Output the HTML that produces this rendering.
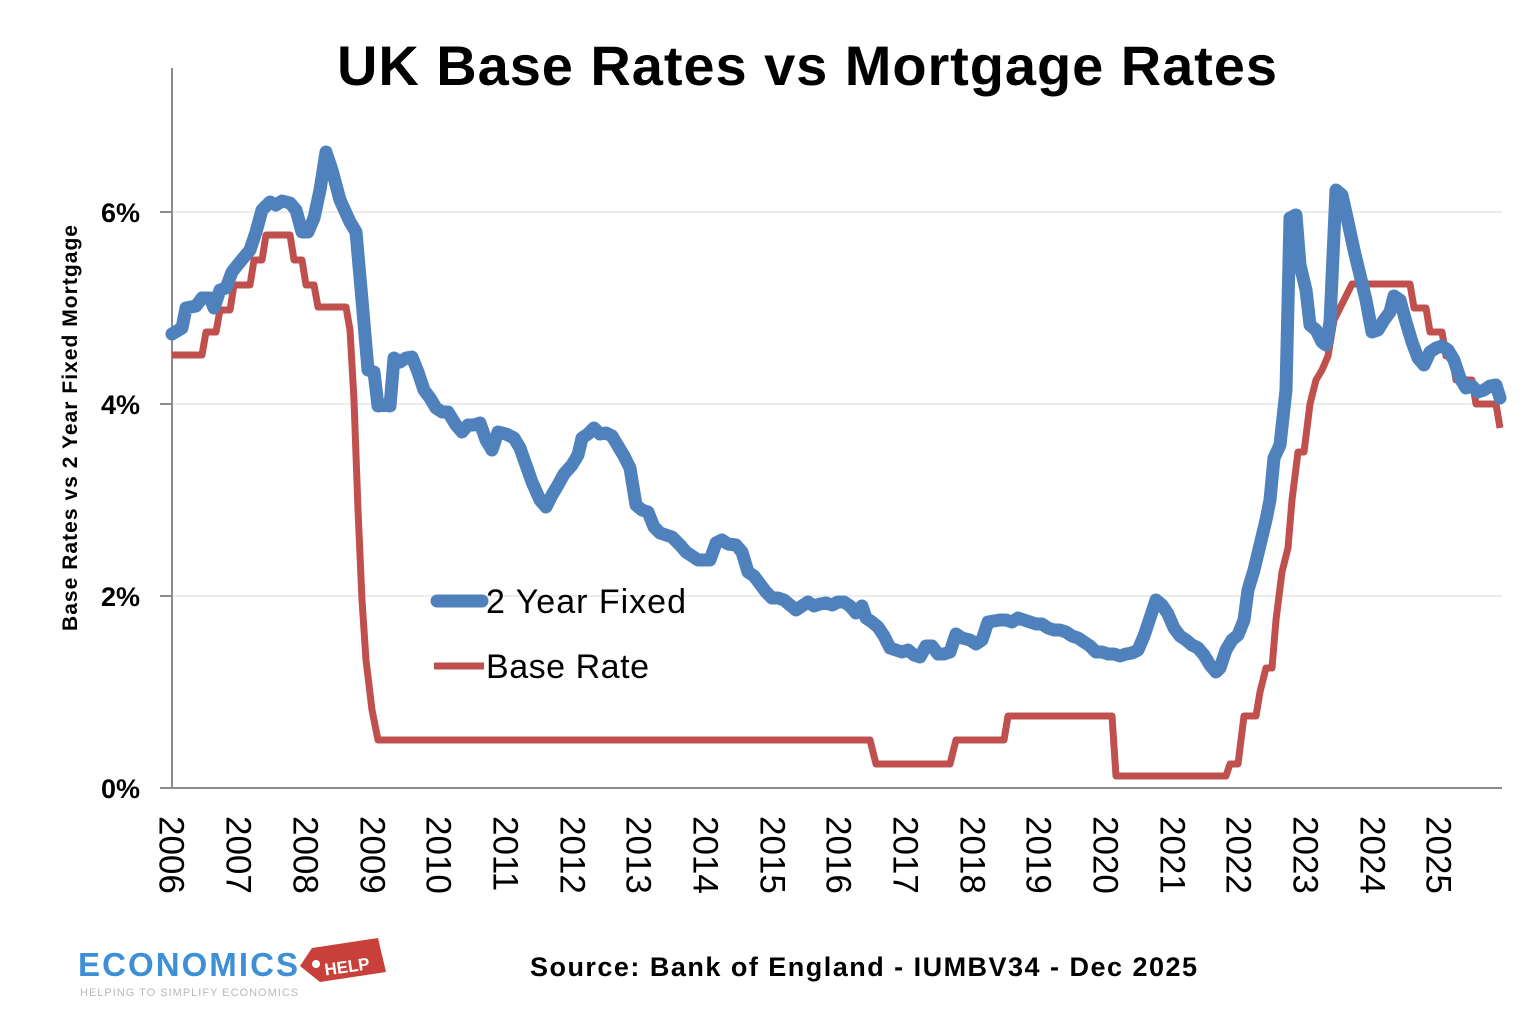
<!DOCTYPE html>
<html><head><meta charset="utf-8"><style>
body{margin:0;background:#fff;}
svg{display:block;font-family:"Liberation Sans",sans-serif;}
</style></head><body>
<svg width="1536" height="1010" viewBox="0 0 1536 1010">
<rect width="1536" height="1010" fill="#fff"/>
<text x="807" y="85" text-anchor="middle" font-size="56" font-weight="bold" fill="#000" textLength="940" lengthAdjust="spacing">UK Base Rates vs Mortgage Rates</text>
<g stroke="#d9d9d9" stroke-width="1">
<line x1="172" y1="212" x2="1502" y2="212"/>
<line x1="172" y1="404" x2="1502" y2="404"/>
<line x1="172" y1="596" x2="1502" y2="596"/>
</g>
<g stroke="#8c8c8c" stroke-width="2">
<line x1="172" y1="68" x2="172" y2="789"/>
<line x1="160" y1="788" x2="1502" y2="788"/>
<line x1="160" y1="212" x2="172" y2="212"/>
<line x1="160" y1="404" x2="172" y2="404"/>
<line x1="160" y1="596" x2="172" y2="596"/>
</g>
<g font-size="27" font-weight="bold" text-anchor="end" fill="#000">
<text x="140" y="222">6%</text>
<text x="140" y="414">4%</text>
<text x="140" y="606">2%</text>
<text x="140" y="798">0%</text>
</g>
<text transform="translate(77,428) rotate(-90)" text-anchor="middle" font-size="21" font-weight="bold" textLength="406" lengthAdjust="spacing">Base Rates vs 2 Year Fixed Mortgage</text>
<g font-size="35" fill="#000" dominant-baseline="central">
<text transform="translate(171,816) rotate(90)">2006</text>
<text transform="translate(238,816) rotate(90)">2007</text>
<text transform="translate(305,816) rotate(90)">2008</text>
<text transform="translate(372,816) rotate(90)">2009</text>
<text transform="translate(438,816) rotate(90)">2010</text>
<text transform="translate(505,816) rotate(90)">2011</text>
<text transform="translate(572,816) rotate(90)">2012</text>
<text transform="translate(638,816) rotate(90)">2013</text>
<text transform="translate(705,816) rotate(90)">2014</text>
<text transform="translate(772,816) rotate(90)">2015</text>
<text transform="translate(838,816) rotate(90)">2016</text>
<text transform="translate(905,816) rotate(90)">2017</text>
<text transform="translate(972,816) rotate(90)">2018</text>
<text transform="translate(1038,816) rotate(90)">2019</text>
<text transform="translate(1105,816) rotate(90)">2020</text>
<text transform="translate(1172,816) rotate(90)">2021</text>
<text transform="translate(1238,816) rotate(90)">2022</text>
<text transform="translate(1305,816) rotate(90)">2023</text>
<text transform="translate(1372,816) rotate(90)">2024</text>
<text transform="translate(1438,816) rotate(90)">2025</text>
</g>
<polyline fill="none" stroke="#c0504d" stroke-width="7" stroke-linejoin="round" points="172,355 202,355 206,332 216,332 220,310 230,310 234,285 250,285 254,260 262,260 266,235 290,235 294,260 302,260 306,285 314,285 318,307 346,307 350,330 354,400 358,510 362,600 366,660 372,710 378,740 870,740 876,764 950,764 956,740 1004,740 1008,716 1112,716 1116,776 1226,776 1230,764 1238,764 1244,716 1256,716 1260,692 1266,668 1272,668 1276,620 1282,572 1288,548 1292,500 1298,452 1304,452 1310,404 1316,380 1322,370 1328,356 1334,320 1340,308 1346,296 1352,284 1410,284 1414,308 1426,308 1430,332 1442,332 1446,356 1452,356 1456,380 1472,380 1476,404 1496,404 1500,428"/>
<polyline fill="none" stroke="#4f81bd" stroke-width="13" stroke-linejoin="round" stroke-linecap="round" points="172,334 182,328 186,308 196,306 202,298 210,298 214,308 220,290 226,288 232,272 240,262 250,250 256,232 262,210 270,202 276,205 282,201 290,203 296,210 302,232 308,232 314,218 320,190 326,152 332,170 340,200 350,222 356,232 362,300 368,370 374,372 378,406 384,405 390,406 394,358 400,362 406,358 412,357 418,372 424,390 430,398 436,408 442,412 448,412 456,425 462,432 468,425 474,425 480,423 486,440 492,450 498,432 506,434 514,438 520,448 526,465 532,482 540,500 546,507 552,495 558,485 564,474 572,465 578,455 582,438 588,434 594,428 600,434 606,433 612,436 618,446 624,456 630,468 636,505 642,510 648,512 654,527 660,533 666,535 672,537 680,545 686,552 692,556 698,560 704,560 710,560 716,543 722,540 728,544 736,545 742,552 748,572 754,576 760,584 766,592 772,598 778,598 784,600 790,605 796,610 802,606 808,602 814,606 820,604 826,603 832,605 838,602 844,602 850,606 856,613 862,606 866,618 872,622 878,627 884,636 890,648 896,650 902,652 908,650 914,655 920,657 926,646 932,646 938,654 944,654 950,652 956,634 962,638 970,640 976,644 982,640 988,622 994,621 1000,620 1006,620 1012,622 1018,618 1024,620 1030,622 1036,624 1042,624 1048,628 1054,630 1060,630 1066,632 1072,636 1078,638 1084,642 1090,646 1096,652 1102,652 1108,654 1114,654 1120,656 1126,654 1132,653 1138,650 1144,636 1150,618 1156,600 1162,605 1168,614 1174,628 1180,636 1186,640 1192,645 1198,648 1204,655 1210,665 1216,672 1220,668 1226,650 1232,640 1238,635 1244,620 1248,590 1254,570 1260,545 1266,520 1270,500 1274,458 1280,445 1286,390 1290,218 1296,215 1300,265 1306,290 1310,325 1316,330 1322,342 1326,345 1330,322 1336,190 1342,195 1348,222 1354,250 1360,275 1366,300 1372,332 1378,330 1384,320 1390,312 1394,296 1400,300 1406,322 1412,342 1418,358 1424,365 1430,352 1436,348 1442,346 1448,350 1454,360 1460,378 1466,388 1472,386 1478,392 1484,390 1490,386 1496,385 1500,398"/>
<line x1="437" y1="601" x2="482" y2="601" stroke="#4f81bd" stroke-width="13" stroke-linecap="round"/>
<text x="486" y="613" font-size="34" textLength="200" lengthAdjust="spacing">2 Year Fixed</text>
<line x1="434" y1="666" x2="484" y2="666" stroke="#c0504d" stroke-width="7"/>
<text x="486" y="678" font-size="34" textLength="163" lengthAdjust="spacing">Base Rate</text>
<text x="530" y="976" font-size="27" font-weight="bold" textLength="667" lengthAdjust="spacing">Source: Bank of England -  IUMBV34 - Dec 2025</text>
<text x="78" y="976" font-size="33" font-weight="bold" fill="#3d8fd6" textLength="220" lengthAdjust="spacing">ECONOMICS</text>
<path d="M312,948 L378,938 L386,972 L320,982 L300,966 Z" fill="#c9403a"/>
<circle cx="316" cy="964" r="4" fill="#fff"/>
<text x="324" y="972" font-size="17" font-weight="bold" fill="#fff" transform="rotate(-8 350 964)">HELP</text>
<text x="80" y="996" font-size="11" fill="#b8b8b8" letter-spacing="1">HELPING TO SIMPLIFY ECONOMICS</text>
</svg>
</body></html>
